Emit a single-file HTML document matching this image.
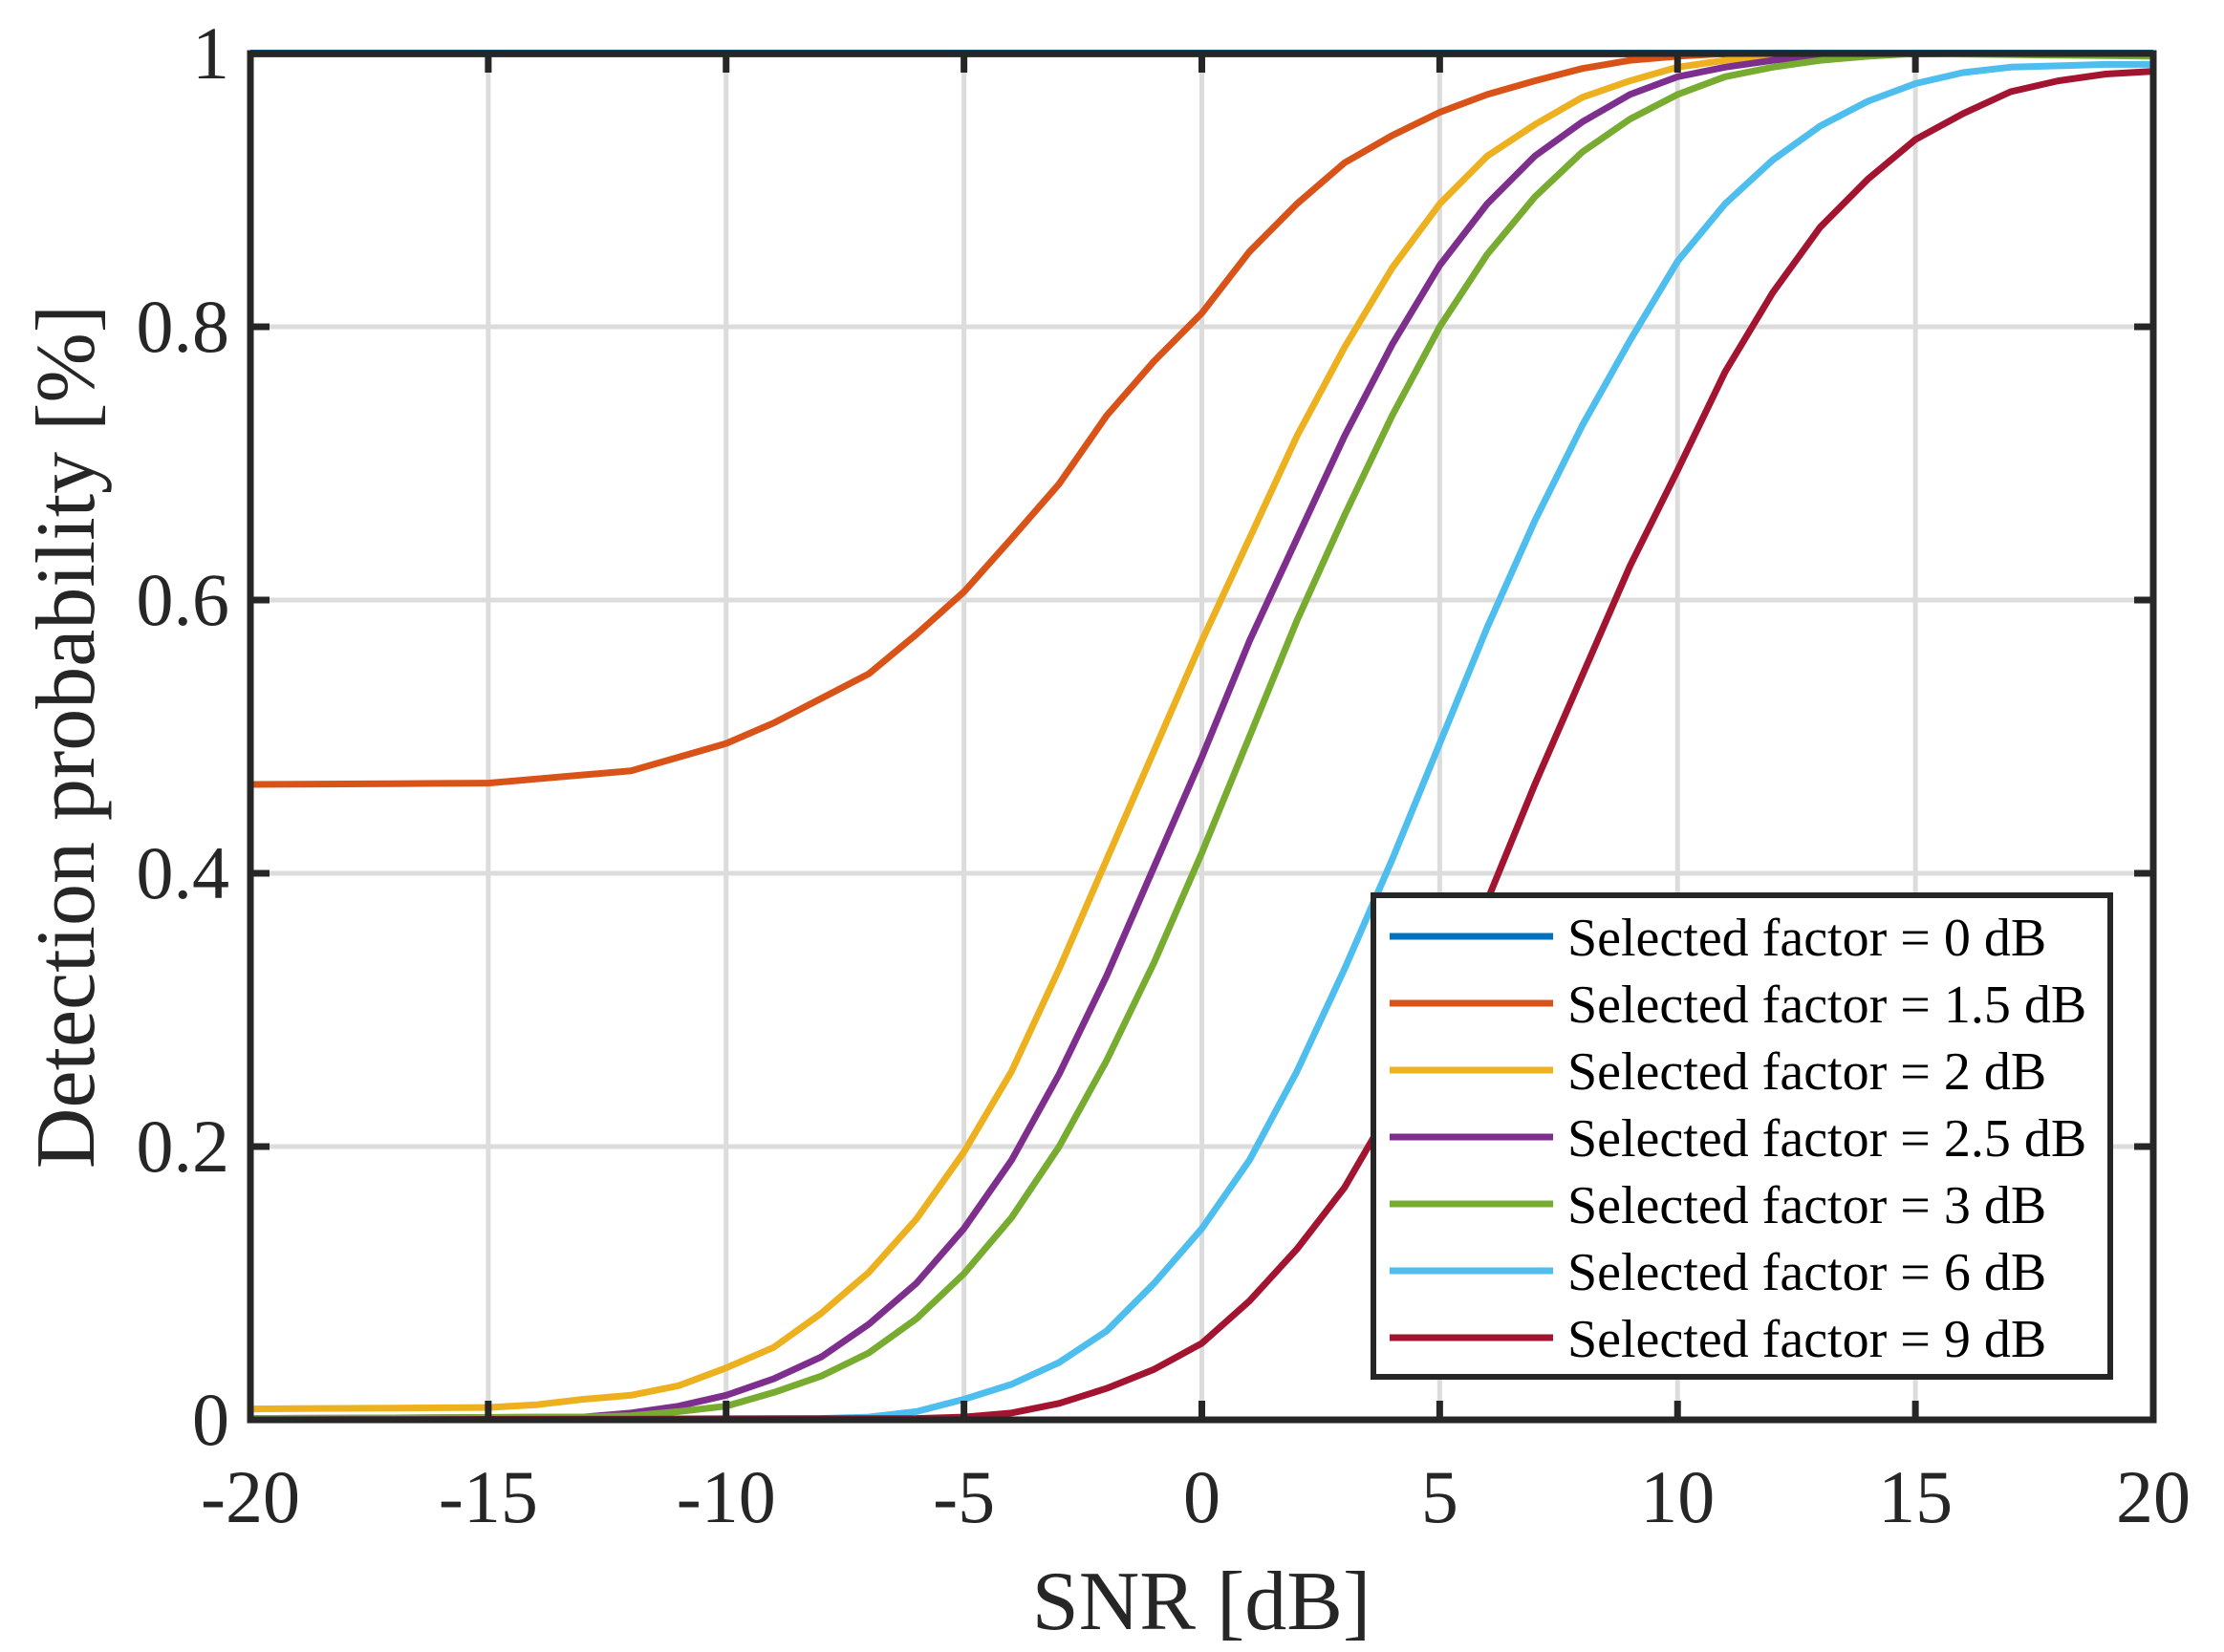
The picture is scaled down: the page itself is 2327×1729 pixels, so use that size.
<!DOCTYPE html>
<html><head><meta charset="utf-8"><style>
html,body{margin:0;padding:0;background:#fff;}
svg{display:block;font-family:"Liberation Serif",serif;}
</style></head><body>
<svg id="s" width="2327" height="1729" viewBox="0 0 2327 1729" xmlns="http://www.w3.org/2000/svg">
<rect width="2327" height="1729" fill="#fff"/>
<g id="grid" stroke="#dcdcdc" stroke-width="5"></g>
<g id="curves" fill="none" stroke-width="7" stroke-linejoin="round"></g>
<rect x="262" y="56" width="1991" height="1430" fill="none" stroke="#262626" stroke-width="7"/>
<g id="ticks" stroke="#262626" stroke-width="7"></g>
<g id="labels" fill="#262626" font-size="78"></g>
<text x="1257" y="1705" font-size="88" text-anchor="middle" fill="#262626">SNR [dB]</text>
<text transform="translate(98,771) rotate(-90)" font-size="88" text-anchor="middle" fill="#262626">Detection probability [%]</text>
<g id="legend"></g>
</svg>
<script>
var X=function(v){return 262+(v+20)*49.775;}, Y=function(v){return 1486-v*1430;};
var ns="http://www.w3.org/2000/svg";
function el(p,t,a,txt){var e=document.createElementNS(ns,t);for(var k in a)e.setAttribute(k,a[k]);if(txt!==undefined)e.textContent=txt;document.getElementById(p).appendChild(e);return e;}
for(var v=-15;v<=15;v+=5){el('grid','line',{x1:X(v),x2:X(v),y1:56,y2:1486});}
for(var i=1;i<5;i++){el('grid','line',{x1:262,x2:2253,y1:Y(i*0.2),y2:Y(i*0.2)});}
for(var v=-15;v<=15;v+=5){el('ticks','line',{x1:X(v),x2:X(v),y1:1486,y2:1466});el('ticks','line',{x1:X(v),x2:X(v),y1:56,y2:76});}
for(var i=1;i<5;i++){el('ticks','line',{x1:262,x2:282,y1:Y(i*0.2),y2:Y(i*0.2)});el('ticks','line',{x1:2253,x2:2233,y1:Y(i*0.2),y2:Y(i*0.2)});}
for(var v=-20;v<=20;v+=5){el('labels','text',{x:X(v),y:1593,'text-anchor':'middle'},String(v));}
var yl=['0','0.2','0.4','0.6','0.8','1'];
for(var i=0;i<6;i++){el('labels','text',{x:240,y:Y(i*0.2)+26,'text-anchor':'end'},yl[i]);}
function full(pts){var m={};pts.forEach(function(p){m[p[0]]=p[1];});var out=[],keys=pts.map(function(p){return p[0];});
for(var s=-20;s<=20;s++){var v;if(m[s]!==undefined)v=m[s];else{var a=null,b=null;for(var k=0;k<keys.length;k++){if(keys[k]<s)a=pts[k];if(keys[k]>s&&b===null)b=pts[k];}
if(a&&b)v=a[1]+(b[1]-a[1])*(s-a[0])/(b[0]-a[0]);else if(a)v=a[1];else v=b[1];}out.push([s,v]);}return out;}
var series=[
['#0072bd',[[-20,1],[20,1]]],
['#d95319',[[-20,0.465],[-15,0.466],[-12,0.475],[-10,0.495],[-9,0.51],[-8,0.528],[-7,0.546],[-6,0.575],[-5,0.606],[-4,0.645],[-3,0.685],[-2,0.735],[-1,0.775],[0,0.81],[1,0.855],[2,0.89],[3,0.92],[4,0.94],[5,0.957],[6,0.97],[7,0.98],[8,0.989],[9,0.995],[10,0.998],[11,1],[20,1]]],
['#edb120',[[-20,0.008],[-15,0.009],[-14,0.011],[-13,0.015],[-12,0.018],[-11,0.025],[-10,0.038],[-9,0.053],[-8,0.078],[-7,0.108],[-6,0.147],[-5,0.196],[-4,0.255],[-3,0.33],[-2,0.41],[-1,0.49],[0,0.57],[1,0.645],[2,0.72],[3,0.785],[4,0.843],[5,0.89],[6,0.925],[7,0.948],[8,0.968],[9,0.98],[10,0.99],[11,0.995],[12,0.998],[13,1],[20,1]]],
['#7e2f8e',[[-20,0.001],[-13,0.002],[-12,0.005],[-11,0.01],[-10,0.018],[-9,0.03],[-8,0.046],[-7,0.07],[-6,0.1],[-5,0.14],[-4,0.19],[-3,0.253],[-2,0.325],[-1,0.405],[0,0.485],[1,0.57],[2,0.645],[3,0.72],[4,0.787],[5,0.845],[6,0.89],[7,0.925],[8,0.95],[9,0.97],[10,0.983],[11,0.99],[12,0.995],[13,0.998],[14,1],[20,1]]],
['#77ac30',[[-20,0.001],[-13,0.002],[-12,0.003],[-11,0.006],[-10,0.01],[-9,0.02],[-8,0.032],[-7,0.049],[-6,0.074],[-5,0.107],[-4,0.148],[-3,0.2],[-2,0.263],[-1,0.335],[0,0.415],[1,0.5],[2,0.585],[3,0.662],[4,0.735],[5,0.8],[6,0.853],[7,0.895],[8,0.928],[9,0.952],[10,0.97],[11,0.983],[12,0.99],[13,0.995],[14,0.998],[15,1],[20,0.998]]],
['#4dbeee',[[-20,0],[-8,0.001],[-7,0.002],[-6,0.006],[-5,0.015],[-4,0.026],[-3,0.042],[-2,0.065],[-1,0.1],[0,0.14],[1,0.19],[2,0.255],[3,0.33],[4,0.41],[5,0.495],[6,0.58],[7,0.658],[8,0.728],[9,0.79],[10,0.848],[11,0.89],[12,0.922],[13,0.947],[14,0.965],[15,0.978],[16,0.986],[17,0.99],[18,0.991],[19,0.992],[20,0.992]]],
['#a2142f',[[-20,0],[-6,0.001],[-5,0.002],[-4,0.005],[-3,0.012],[-2,0.023],[-1,0.037],[0,0.056],[1,0.087],[2,0.125],[3,0.17],[4,0.23],[5,0.3],[6,0.38],[7,0.465],[8,0.545],[9,0.625],[10,0.695],[11,0.767],[12,0.825],[13,0.873],[14,0.908],[15,0.937],[16,0.956],[17,0.972],[18,0.98],[19,0.985],[20,0.987]]]
];
series.forEach(function(s,i){var pts=i==0?s[1]:full(s[1]);el('curves','polyline',{stroke:s[0],'stroke-width':i==0?8:7,points:pts.map(function(p){return X(p[0]).toFixed(1)+','+Y(p[1]).toFixed(1);}).join(' ')});});
el('legend','rect',{x:1437,y:937,width:771,height:504,fill:'#fff',stroke:'#262626','stroke-width':6});
var names=['0','1.5','2','2.5','3','6','9'];
for(var i=0;i<7;i++){var y=980+i*70;el('legend','line',{x1:1454,x2:1625,y1:y,y2:y,stroke:series[i][0],'stroke-width':7});
el('legend','text',{x:1640,y:y+20,'font-size':56,fill:'#000'},'Selected factor = '+names[i]+' dB');}
</script>
</body></html>
